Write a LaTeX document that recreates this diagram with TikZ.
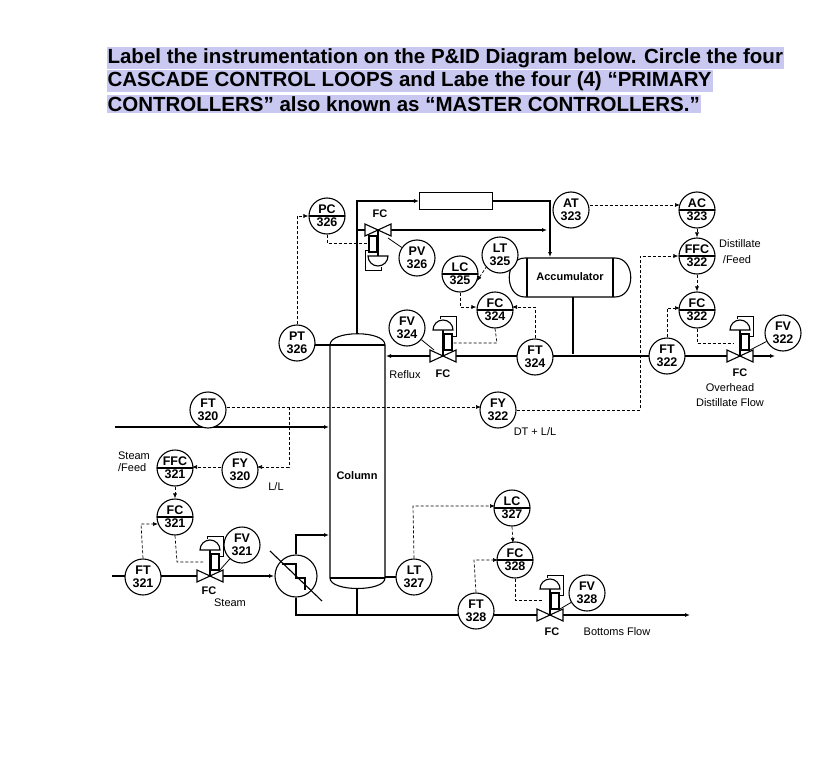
\documentclass[tikz,border=0pt]{standalone}
\usepackage{fontspec}
\setmainfont{Liberation Sans}
\usetikzlibrary{arrows.meta}
\begin{document}
\begin{tikzpicture}[x=1pt,y=-1pt,
  line width=1.1pt,
  >={Latex[length=5pt,width=4pt]},
  inst/.style={circle,draw,fill=white,minimum size=36pt,inner sep=0pt,align=center,font=\fontsize{12.5}{13}\selectfont\bfseries,line width=1.1pt},
  ctl/.style={inst,path picture={\draw[line width=1.1pt] (path picture bounding box.west)--(path picture bounding box.east);}},
  sig/.style={line width=0.7pt,dash pattern=on 3pt off 2pt},
  lbl/.style={font=\fontsize{11}{12}\selectfont},
  blbl/.style={font=\fontsize{11}{12}\selectfont\bfseries},
  ttl/.style={fill={rgb,255:red,200;green,200;blue,240},inner sep=1pt,anchor=west,font=\fontsize{20.5}{21}\selectfont\bfseries},
  valve/.pic={\draw[fill=white] (-13,-6)--(13,6)--(13,-6)--(-13,6)--cycle;},
  act/.pic={\draw (0,0)--(0,-26); \draw[fill=white] (-10,-26) arc (180:360:10) -- cycle; \draw[fill=white] (1,-6) rectangle (9,-22); \draw[line width=0.8pt] (9,-20)--(13,-20)--(13,-40)--(-3,-40)--(-3,-37);},
  actdown/.pic={\draw (0,0)--(0,26); \draw[fill=white] (-10,26) arc (180:0:10) -- cycle; \draw[fill=white] (-9,6) rectangle (-1,22); \draw[line width=0.8pt] (-9,20)--(-13,20)--(-13,40)--(3,40)--(3,37);}
]
\useasboundingbox (0,0) rectangle (836,760);
% title
\node[ttl] (t1) at (106,58) {Label the instrumentation on the P\&ID Diagram below. Circle the four};
\node[ttl] (t2) at (106,81) {CASCADE CONTROL LOOPS and Labe the four (4) “PRIMARY\hspace{6pt}};
\node[ttl] (t3) at (106,104) {CONTROLLERS” also known as “MASTER CONTROLLERS.”};

% column
\draw[fill=white] (330,578) -- (330,345) .. controls (330,330) and (385,330) .. (385,345) -- (385,578) .. controls (385,592) and (330,592) .. (330,578) -- cycle;
\draw (330,345)--(385,345) (330,578)--(385,578);
\node[blbl] (col) at (357,476) {Column};
\coordinate (coltop) at (357,334);
% condenser & overhead
\node[draw,minimum width=73pt,minimum height=17pt,inner sep=0pt] (cond) at (456,201) {};
\draw[->] (coltop) -- (357,201) -- (cond.west);
\draw (cond.east) -- (550,201) -- (550,230);
\draw[->] (550,230) -- (550,257);
\draw[->] (357,230) -- (547,230);
% accumulator
\draw[fill=white] (525,258) -- (615,258) .. controls (636,258) and (636,297) .. (615,297) -- (525,297) .. controls (504,297) and (504,258) .. (525,258) -- cycle;
\draw (527,258)--(527,297) (613,258)--(613,297);
\node[blbl] (acc) at (570,277) {Accumulator};
\draw (573,297) -- (573,354);
% reflux / distillate line
\draw[->] (740,356) -- (386,356);
\draw[->] (740,356) -- (775,356);
% feed
\draw[->] (115,427) -- (329,427);
% steam line & exchanger
\draw[->] (112,576) -- (274,576);
\node[circle,draw,minimum size=42pt,inner sep=0pt] (hx) at (296,576) {};
\draw (282,564)--(296,564)--(296,578)--(305,578)--(305,590);
\draw (270,551) -- (322,601);
\draw[->] (hx.north) -- (296,535) -- (329,535);
\draw (hx.south) -- (296,615) -- (357,615) -- (357,589);
\draw[->] (357,615) -- (690,615);
% column side connections
\draw (314,345) -- (330,345);
\draw (385,577) -- (397,577);

% valves
\pic at (378,230) {valve}; \pic at (378,230) {actdown};
\pic at (443,356) {valve}; \pic at (443,356) {act};
\pic at (740,356) {valve}; \pic at (740,356) {act};
\pic at (210,576) {valve}; \pic at (210,576) {act};
\pic at (550,615) {valve}; \pic at (550,615) {act};

% instruments
\node[ctl] (pc326) at (327,216) {PC\\326};
\node[inst] (pt326) at (297,343) {PT\\326};
\node[inst] (pv326) at (417,258) {PV\\326};
\node[inst] (lt325) at (500,255) {LT\\325};
\node[ctl] (lc325) at (460,274) {LC\\325};
\node[ctl] (fc324) at (495,310) {FC\\324};
\node[inst] (fv324) at (407,328) {FV\\324};
\node[inst] (ft324) at (535,357) {FT\\324};
\node[inst] (at323) at (571,210) {AT\\323};
\node[ctl] (ac323) at (697,210) {AC\\323};
\node[ctl] (ffc322) at (697,256) {FFC\\322};
\node[ctl] (fc322) at (697,310) {FC\\322};
\node[inst] (ft322) at (667,356) {FT\\322};
\node[inst] (fv322) at (783,333) {FV\\322};
\node[inst] (fy322) at (498,410) {FY\\322};
\node[inst] (ft320) at (208,410) {FT\\320};
\node[inst] (fy320) at (240,470) {FY\\320};
\node[ctl] (ffc321) at (175,468) {FFC\\321};
\node[ctl] (fc321) at (175,517) {FC\\321};
\node[inst] (ft321) at (143,577) {FT\\321};
\node[inst] (fv321) at (242,545) {FV\\321};
\node[inst] (lt327) at (414,577) {LT\\327};
\node[ctl] (lc327) at (512,508) {LC\\327};
\node[ctl] (fc328) at (515,560) {FC\\328};
\node[inst] (ft328) at (476,611) {FT\\328};
\node[inst] (fv328) at (587,593) {FV\\328};

% bubble leaders to valves
\draw[line width=0.8pt] (pv326) -- (388,238);
\draw[line width=0.8pt] (fv324) -- (434,350);
\draw[line width=0.8pt] (fv322) -- (750,350);
\draw[line width=0.8pt] (fv321) -- (220,570);
\draw[line width=0.8pt] (fv328) -- (560,609);

% signal lines
\draw[sig,->] (pt326.north) -- (297,216) -- (pc326.west);
\draw[sig] (pc326.south) -- (327,243) -- (369,243);
\draw[sig,->] (lt325.south west) ++(0,-2) -- (477,281);
\draw[sig,->] (lc325.south) -- (460,307) -- (fc324.west |- 0,307);
\draw[sig,->] (ft324.north) -- (535,307) -- (512,307);
\draw[sig] (fc324.south) -- (497,343) -- (452,343);
\draw[sig,->] (at323.east) ++(0,-5) -- (680,205);
\draw[sig,->] (ac323.south) -- (ffc322.north);
\draw[sig,->] (ffc322.south) -- (fc322.north);
\draw[sig,->] (fy322.east) -- (640,410) -- (640,256) -- (ffc322.west);
\draw[sig,->] (ft322.north) -- (667,308) -- (680,308);
\draw[sig] (fc322.south) -- (697,343) -- (733,343);
\draw[sig,->] (ft320.east) ++(0,-3) -- (481,407);
\draw[sig,->] (289,407) -- (289,467) -- (257,467);
\draw[sig,->] (fy320.west) ++(0,-3) -- (192,467);
\draw[sig,->] (ffc321.south) -- (fc321.north);
\draw[sig,->] (ft321.north) -- (141,524) -- (158,524);
\draw[sig] (fc321.south) -- (177,562) -- (203,562);
\draw[sig,->] (lt327.north) -- (413,506) -- (495,506);
\draw[sig,->] (lc327.south) -- (513,543);
\draw[sig,->] (ft328.north) -- (474,560) -- (498,560);
\draw[sig] (fc328.south) -- (515,600) -- (543,600);

% labels
\node[blbl] (fcv326) at (380,214) {FC};
\node[lbl] (reflux) at (405,375) {Reflux};
\node[blbl] (fcv324) at (443,374) {FC};
\node[lbl] (dtll) at (535,432) {DT + L/L};
\node[lbl] (dist) at (740,244) {Distillate};
\node[lbl] (feed2) at (737,260) {/Feed};
\node[blbl] (fcv322) at (740,373) {FC};
\node[lbl] (oh) at (730,388) {Overhead};
\node[lbl] (dflow) at (730,403) {Distillate Flow};
\node[lbl,align=left] (sfeed) at (134,462) {Steam\\/Feed};
\node[lbl] (ll) at (276,487) {L/L};
\node[blbl] (fcv321) at (209,591) {FC};
\node[lbl] (steam) at (230,603) {Steam};
\node[blbl] (fcv328) at (552,632) {FC};
\node[lbl] (bflow) at (617,632) {Bottoms Flow};
\end{tikzpicture}
\end{document}
